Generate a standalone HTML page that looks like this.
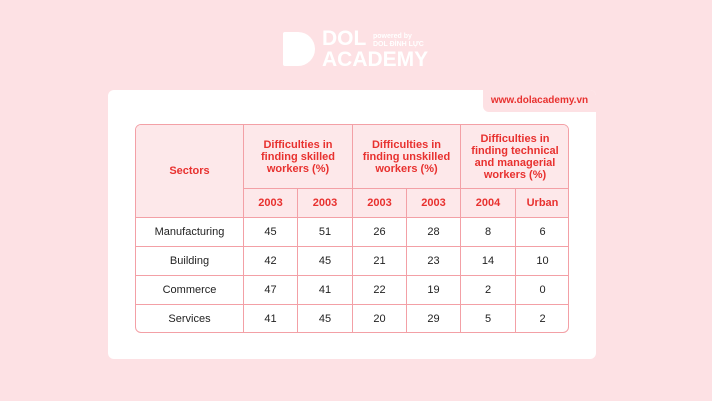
<!DOCTYPE html>
<html><head><meta charset="utf-8"><style>
*{margin:0;padding:0;box-sizing:border-box}
body{width:712px;height:401px;background:#fde1e4;font-family:"Liberation Sans",sans-serif;position:relative;overflow:hidden}
.logo{position:absolute;color:#fff;font-weight:bold}
#card{position:absolute;left:108px;top:90px;width:488px;height:269px;background:#fff;border-radius:6px}
#url{position:absolute;left:483px;top:90px;width:113px;height:22px;background:#fde1e4;border-radius:0 6px 0 6px;color:#e8312f;font-size:10px;font-weight:bold;line-height:21px;text-align:center}
#tbl{position:absolute;left:135px;top:124px;width:434px;height:209px;border:1px solid #f3a0a6;border-radius:6px;overflow:hidden}
.c{position:absolute;display:flex;align-items:center;justify-content:center;text-align:center;border-right:1px solid #f3a0a6;border-bottom:1px solid #f3a0a6;font-size:11px}
.h{background:#fde8ea;color:#e8312f;font-weight:bold;line-height:12px}
.d{color:#222}
</style></head><body>
<div class="logo" style="left:283px;top:32px;width:32px;height:34px;background:#fff;border-radius:2px 18px 18px 2px"></div>
<div class="logo" style="left:322px;top:28px;font-size:21px;line-height:21px">DOL<br>ACADEMY</div>
<div class="logo" style="left:373px;top:33px;font-size:7px;line-height:8px">powered by<br>DOL ĐÌNH LỰC</div>
<div id="card"></div>
<div id="url">www.dolacademy.vn</div>
<div id="tbl"></div>
<script>
const sectors=["Manufacturing","Building","Commerce","Services"];
const groups=["Difficulties in finding skilled workers (%)","Difficulties in finding unskilled workers (%)","Difficulties in finding technical and managerial workers (%)"];
const subHeaders=["2003","2003","2003","2003","2004","Urban"];
const values=[[45,51,26,28,8,6],[42,45,21,23,14,10],[47,41,22,19,2,0],[41,45,20,29,5,2]];
const colW=[108,54,55,54,54,55,54];
const rowH=[64,29,29,29,29,29];
const t=document.getElementById('tbl');
const xs=[0];colW.forEach(w=>xs.push(xs[xs.length-1]+w));
const ys=[0];rowH.forEach(h=>ys.push(ys[ys.length-1]+h));
function cell(x,y,w,h,txt,cls,name){
 const d=document.createElement('div');d.className='c '+cls;
 d.style.left=x+'px';d.style.top=y+'px';d.style.width=w+'px';d.style.height=h+'px';
 d.textContent=txt;
 
 
 t.appendChild(d);return d;}
const s=cell(0,0,colW[0],rowH[0]+rowH[1],'Sectors','h','sectors-header');
groups.forEach((g,i)=>{const d=cell(xs[1+2*i],0,colW[1+2*i]+colW[2+2*i],rowH[0],g,'h','group-header');d.style.padding='0 8px';});
subHeaders.forEach((h,i)=>cell(xs[1+i],ys[1],colW[1+i],rowH[1],h,'h','year-header'));
sectors.forEach((sec,r)=>{
 cell(0,ys[2+r],colW[0],rowH[2+r],sec,'d','sector-label');
 values[r].forEach((v,c)=>cell(xs[1+c],ys[2+r],colW[1+c],rowH[2+r],String(v),'d','value-cell'));
});
</script>
</body></html>
